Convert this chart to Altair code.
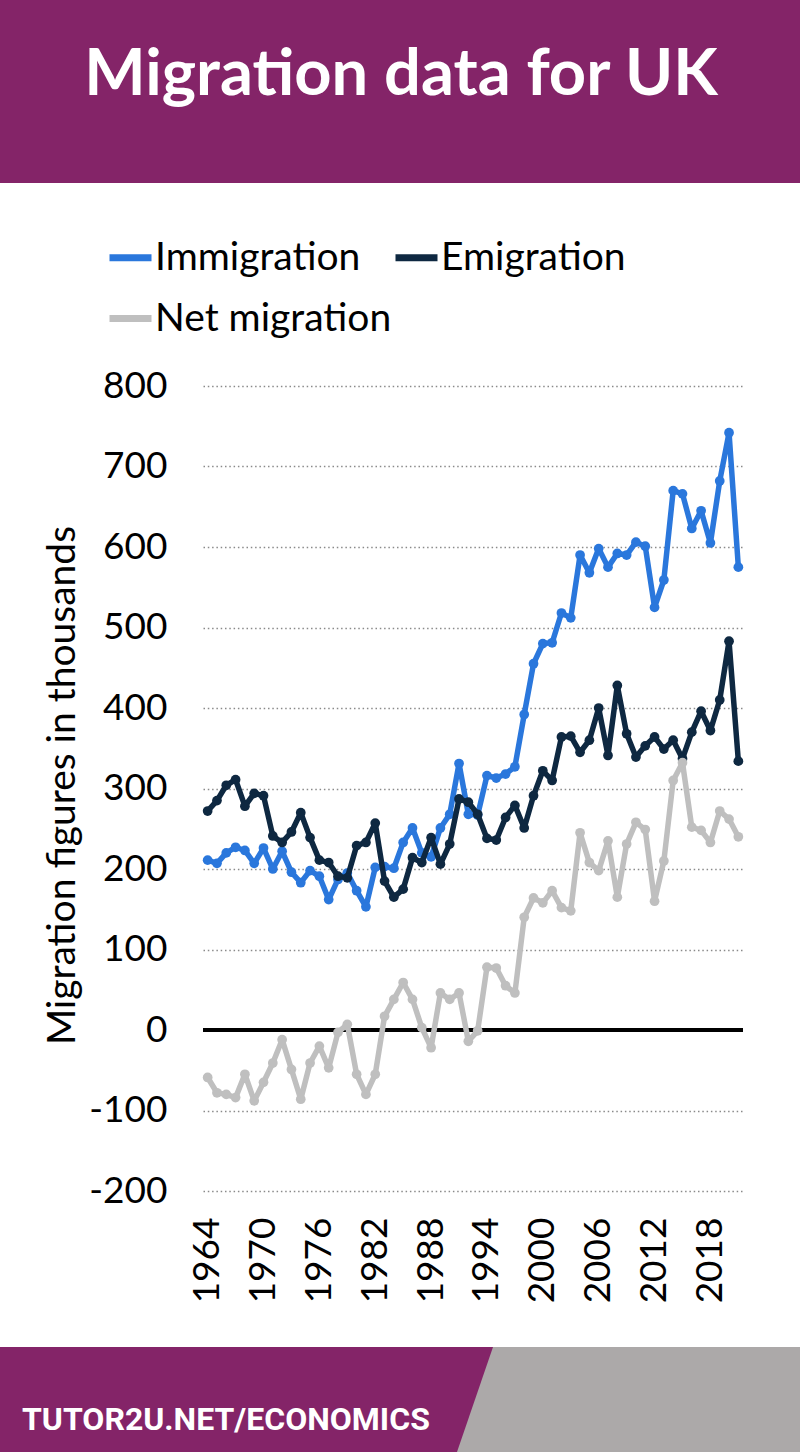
import altair as alt
import pandas as pd

# UK long-term international migration, thousands per calendar year
years = list(range(1964, 2022))
immigration = [
    211, 207, 220, 227, 223, 207, 226, 200, 222, 196,
    183, 198, 191, 162, 187, 195, 173, 153, 202, 203,
    201, 233, 251, 220, 215, 251, 268, 331, 268, 267,
    316, 313, 318, 327, 392, 455, 480, 481, 518, 512,
    590, 568, 598, 575, 592, 590, 606, 601, 525, 559,
    670, 666, 623, 645, 605, 682, 742, 575,
]
emigration = [
    272, 285, 304, 311, 278, 294, 291, 241, 233, 246,
    270, 239, 211, 208, 191, 189, 229, 233, 257, 185,
    165, 175, 214, 208, 239, 206, 231, 287, 283, 268,
    238, 236, 264, 279, 251, 291, 322, 310, 364, 365,
    345, 360, 400, 341, 428, 368, 339, 353, 364, 349,
    360, 337, 370, 396, 372, 410, 483, 334,
]
net_migration = [
    -59, -78, -80, -84, -55, -88, -65, -41, -12, -49,
    -86, -41, -20, -47, -3, 7, -55, -80, -55, 17,
    38, 59, 38, 3, -22, 46, 38, 46, -14, -1,
    78, 77, 55, 46, 140, 164, 158, 173, 152, 148,
    245, 208, 198, 235, 165, 231, 258, 249, 160, 210,
    310, 332, 252, 248, 233, 272, 262, 240,
]

series_names = ["Immigration", "Emigration", "Net migration"]
series_colors = ["#2a77dc", "#0e2841", "#bfbfbf"]
y_ticks = list(range(-200, 801, 100))
x_ticks = list(range(1964, 2019, 6))

title_text = "Migration data for UK"
y_title = "Migration figures in thousands"
footer_text = "TUTOR2U.NET/ECONOMICS"

PURPLE = "#842468"
GREY = "#aca9a9"
FONT = "Lato"

# canvas geometry: plot area placed inside an 800 x 1452 page
CANVAS_W, CANVAS_H = 800, 1452
LEFT, TOP = 203, 386
W, H = 540, 805
BANNER_H = 183
FOOTER_TOP = 1347

rows = []
for name, vals in zip(series_names, [immigration, emigration, net_migration]):
    for yr, v in zip(years, vals):
        rows.append({"year": yr, "series": name, "value": v})
df = pd.DataFrame(rows)
one = pd.DataFrame({"k": [0]})

x_enc = alt.X(
    "year:Q",
    scale=alt.Scale(domain=[1963.5, 2021.5], nice=False, zero=False),
    axis=alt.Axis(
        values=x_ticks, labelExpr="'' + datum.value", labelAngle=270,
        labelFont=FONT, labelFontSize=37, labelColor="black", labelPadding=26,
        ticks=False, domain=False, grid=False, title=None,
    ),
)
y_enc = alt.Y(
    "value:Q",
    scale=alt.Scale(domain=[-200, 800], nice=False, zero=False),
    axis=alt.Axis(
        values=y_ticks, labelExpr="'' + datum.value",
        labelFont=FONT, labelFontSize=37, labelColor="black", labelPadding=36,
        ticks=False, domain=False,
        grid=True, gridColor="#8a8a8a", gridWidth=1.3, gridDash=[1.5, 2.8],
        title=y_title, titleFont=FONT, titleFontSize=39, titleFontWeight="normal",
        titleColor="black", titleAngle=270, titleX=-129, titleY=399,
        titleAlign="center", titleBaseline="alphabetic",
    ),
)
color_scale = alt.Scale(domain=series_names, range=series_colors)
legend = alt.Legend(
    title=None, orient="none", legendX=-97, legendY=-153,
    direction="horizontal", columns=2,
    columnPadding=-22, rowPadding=16,
    symbolType="stroke", symbolSize=1764, symbolStrokeWidth=7,
    labelFont=FONT, labelFontSize=39, labelColor="black",
    labelOffset=0, labelLimit=600,
)

# page decorations: title banner and footer strip
banner = alt.Chart(one).mark_rect(color=PURPLE).encode(
    x=alt.value(-LEFT), x2=alt.value(CANVAS_W - LEFT),
    y=alt.value(-TOP), y2=alt.value(BANNER_H - TOP),
)
title = alt.Chart(one).mark_text(
    text=title_text, font=FONT, fontWeight="bold", fontSize=65,
    color="white", align="center", baseline="alphabetic",
).encode(x=alt.value(CANVAS_W / 2 - LEFT + 1), y=alt.value(95 - TOP))
footer_grey = alt.Chart(one).mark_rect(color=GREY).encode(
    x=alt.value(-LEFT), x2=alt.value(CANVAS_W - LEFT),
    y=alt.value(FOOTER_TOP - TOP), y2=alt.value(CANVAS_H - TOP),
)
footer_purple = alt.Chart(one).mark_point(
    shape="M0,0L493,0L457,105L0,105Z", size=4, filled=True,
    opacity=1, color=PURPLE, strokeWidth=0,
).encode(x=alt.value(-LEFT), y=alt.value(FOOTER_TOP - TOP))
footer = alt.Chart(one).mark_text(
    text=footer_text, font="Roboto",
    fontWeight="bold", fontSize=32, color="white",
    align="left", baseline="alphabetic",
).encode(x=alt.value(22 - LEFT), y=alt.value(1430 - TOP))

zero_line = alt.Chart(one).mark_rule(color="black", strokeWidth=4).encode(
    y=alt.datum(0)
)

series_layers = []
for name in series_names:
    base = alt.Chart(df).transform_filter(alt.datum.series == name)
    line = base.mark_line(strokeWidth=5.5, strokeCap="round", strokeJoin="round").encode(
        x=x_enc, y=y_enc, color=alt.Color("series:N", scale=color_scale, legend=legend)
    )
    dots = base.mark_circle(size=95, opacity=1).encode(
        x=x_enc, y=y_enc, color=alt.Color("series:N", scale=color_scale, legend=None)
    )
    series_layers += [line, dots]

chart = alt.layer(
    banner, title, footer_grey, footer_purple, footer, zero_line, *series_layers
).properties(
    width=W, height=H,
    autosize=alt.AutoSizeParams(type="none"),
    padding={"left": LEFT, "top": TOP, "right": CANVAS_W - LEFT - W, "bottom": CANVAS_H - TOP - H},
    background="white",
).configure_view(stroke=None)

chart.save("out.html", embed_options={"renderer": "svg", "actions": False})
